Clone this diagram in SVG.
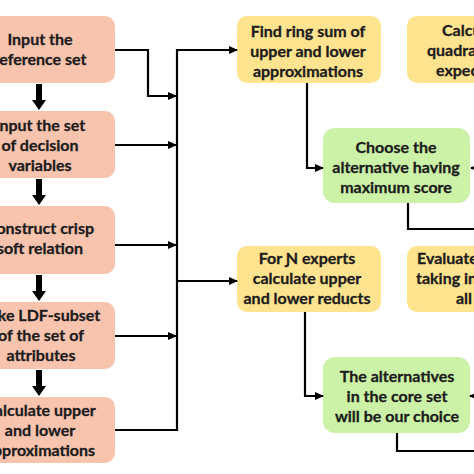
<svg xmlns="http://www.w3.org/2000/svg" width="474" height="474" viewBox="0 0 474 474">
<defs>
<style>
.s{fill:#F9C4AE}
.y{fill:#FFE38E}
.g{fill:#CBF2A6}
text{font-family:Lato,"Open Sans","DejaVu Sans",sans-serif;font-weight:bold;font-size:16px;fill:#1c1c1c;stroke:#1c1c1c;stroke-width:0.3;text-anchor:middle}
.st{text-anchor:start}
.c{fill:none;stroke:#000;stroke-width:2.2}
.t{fill:#000}
</style>
<marker id="ah" markerWidth="9" markerHeight="8" refX="8" refY="4" orient="auto" markerUnits="userSpaceOnUse">
<path d="M0,0 L9,4 L0,8 Z" fill="#000"/>
</marker>
</defs>
<rect width="474" height="474" fill="#fff"/>

<g id="n1"><rect class="s" x="-35" y="16" width="150" height="67" rx="10"/>
<text x="40" y="45">Input the</text><text x="40" y="65">reference set</text></g>
<g id="n2"><rect class="s" x="-35" y="111" width="150" height="67" rx="10"/>
<text x="40" y="131">Input the set</text><text x="40" y="151">of decision</text><text x="40" y="171">variables</text></g>
<g id="n3"><rect class="s" x="-35" y="206" width="150" height="68" rx="10"/>
<text x="40" y="234">Construct crisp</text><text x="40" y="254">soft relation</text></g>
<g id="n4"><rect class="s" x="-35" y="302" width="150" height="67" rx="10"/>
<text x="41" y="321">Take LDF-subset</text><text x="41" y="341">of the set of</text><text x="41" y="361">attributes</text></g>
<g id="n5"><rect class="s" x="-35" y="397" width="150" height="66" rx="10"/>
<text x="40" y="416">Calculate upper</text><text x="40" y="436">and lower</text><text x="40" y="456">approximations</text></g>

<g id="n6"><rect class="y" x="237" y="16" width="144" height="67" rx="10"/>
<text x="308" y="37">Find ring sum of</text><text x="308" y="57">upper and lower</text><text x="308" y="77">approximations</text></g>
<g id="n7"><rect class="y" x="407" y="16" width="144" height="67" rx="10"/>
<text class="st" x="442" y="36">Calcu</text><text class="st" x="427" y="56">quadra</text><text class="st" x="436" y="76">expec</text></g>
<g id="n8"><rect class="y" x="237" y="246" width="144" height="66" rx="10"/>
<text x="307" y="264">For Ɲ experts</text><text x="307" y="284">calculate upper</text><text x="307" y="304">and lower reducts</text></g>
<g id="n9"><rect class="y" x="407" y="246" width="144" height="66" rx="10"/>
<text class="st" x="417" y="264">Evaluate</text><text class="st" x="416" y="284">taking in</text><text class="st" x="456" y="304">all</text></g>
<g id="n10"><rect class="g" x="323" y="128" width="147" height="75" rx="12"/>
<text x="396" y="153">Choose the</text><text x="396" y="173">alternative having</text><text x="396" y="193">maximum score</text></g>
<g id="n11"><rect class="g" x="323" y="357" width="147" height="76" rx="12"/>
<text x="397" y="382">The alternatives</text><text x="397" y="402">in the core set</text><text x="397" y="422">will be our choice</text></g>

<g id="connectors">
<path class="t" d="M36,84 H42 V100 H46 L39,110 L32,100 H36 Z"/>
<path class="t" d="M36,179 H42 V195 H46 L39,205 L32,195 H36 Z"/>
<path class="t" d="M36,275 H42 V291 H46 L39,301 L32,291 H36 Z"/>
<path class="t" d="M36,370 H42 V386 H46 L39,396 L32,386 H36 Z"/>
<path class="c" d="M177,49 V431"/>
<path class="c" d="M115,50 H148 V96 H176" marker-end="url(#ah)"/>
<path class="c" d="M176,50 H237" marker-end="url(#ah)"/>
<path class="c" d="M115,145 H176" marker-end="url(#ah)"/>
<path class="c" d="M115,245 H176" marker-end="url(#ah)"/>
<path class="c" d="M115,336 H176" marker-end="url(#ah)"/>
<path class="c" d="M115,430 H178"/>
<path class="c" d="M177,281 H237" marker-end="url(#ah)"/>
<path class="c" d="M307,83 V168 H323" marker-end="url(#ah)"/>
<path class="c" d="M485,168 H471" marker-end="url(#ah)"/>
<path class="c" d="M408,203 V229 H480"/>
<path class="c" d="M305,312 V396 H323" marker-end="url(#ah)"/>
<path class="c" d="M485,396 H470" marker-end="url(#ah)"/>
<path class="c" d="M397,433 V451 H480"/>
</g>
</svg>
